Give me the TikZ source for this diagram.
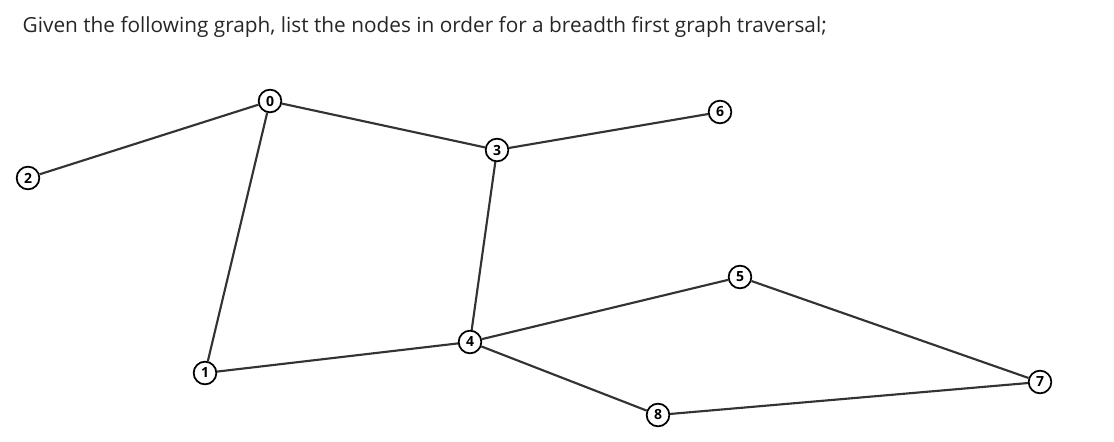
\documentclass[tikz,border=0pt]{standalone}
\usepackage{fontspec}
\setmainfont{Open Sans}
\begin{document}
\begin{tikzpicture}[x=0.75pt,y=-0.75pt,
  vert/.style={circle,draw=black,line width=1.3pt,fill=white,minimum size=17pt,inner sep=0pt,font=\bfseries\fontsize{10.5}{10.5}\selectfont},
  edge/.style={draw=black!80,line width=1.6pt}]
\useasboundingbox (0,0) rectangle (1114,442);
\node[anchor=west,text=black!85,font=\fontsize{15.6}{18}\selectfont] (t) at (18,27) {Given the following graph, list the nodes in order for a breadth first graph traversal;};
\node[vert] (n0) at (270,101) {0};
\node[vert] (n2) at (28,178) {2};
\node[vert] (n3) at (497,150) {3};
\node[vert] (n6) at (720,112) {6};
\node[vert] (n1) at (205,373) {1};
\node[vert] (n4) at (470,342) {4};
\node[vert] (n5) at (740,277) {5};
\node[vert] (n7) at (1040,382) {7};
\node[vert] (n8) at (658,415) {8};
\draw[edge] (n2)--(n0); \draw[edge] (n0)--(n3); \draw[edge] (n3)--(n6);
\draw[edge] (n0)--(n1); \draw[edge] (n3)--(n4); \draw[edge] (n1)--(n4);
\draw[edge] (n4)--(n5); \draw[edge] (n5)--(n7); \draw[edge] (n4)--(n8);
\draw[edge] (n8)--(n7);
\end{tikzpicture}
\end{document}
